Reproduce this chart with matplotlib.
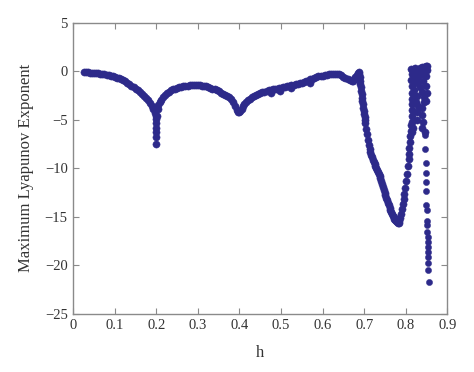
import matplotlib
matplotlib.use("Agg")
import matplotlib.pyplot as plt

# first arm, cusp near h = 0.2
h_a = [0.025, 0.03, 0.035, 0.04, 0.045, 0.05, 0.055, 0.06, 0.065, 0.07,
       0.075, 0.08, 0.085, 0.09, 0.095, 0.10, 0.105, 0.11, 0.115, 0.12,
       0.125, 0.13, 0.135, 0.14, 0.145, 0.15, 0.155, 0.16, 0.165, 0.17,
       0.175, 0.18, 0.185, 0.19, 0.193, 0.196, 0.198, 0.199, 0.2, 0.2,
       0.2, 0.2, 0.2]
lam_a = [-0.10, -0.10, -0.10, -0.11, -0.12, -0.14, -0.16, -0.19, -0.22, -0.26,
         -0.30, -0.34, -0.39, -0.44, -0.50, -0.56, -0.64, -0.72, -0.81, -0.92,
         -1.03, -1.16, -1.30, -1.45, -1.60, -1.76, -1.93, -2.11, -2.30, -2.50,
         -2.73, -2.98, -3.25, -3.60, -3.90, -4.25, -4.60, -4.95, -5.3, -5.8,
         -6.2, -6.8, -7.5]

# between the two cusps
h_b = [0.201, 0.203, 0.205, 0.208, 0.211, 0.215, 0.22, 0.225, 0.23, 0.235,
       0.24, 0.245, 0.25, 0.255, 0.26, 0.265, 0.27, 0.275, 0.28, 0.285,
       0.29, 0.295, 0.30, 0.305, 0.31, 0.315, 0.32, 0.325, 0.33, 0.335,
       0.34, 0.345, 0.35, 0.355, 0.36, 0.365, 0.37, 0.375, 0.38, 0.385,
       0.39, 0.393, 0.396, 0.399, 0.402]
lam_b = [-4.6, -3.9, -3.5, -3.15, -2.9, -2.65, -2.4, -2.22, -2.08, -1.95,
         -1.85, -1.76, -1.68, -1.62, -1.57, -1.52, -1.48, -1.45, -1.43, -1.41,
         -1.40, -1.40, -1.41, -1.43, -1.46, -1.50, -1.55, -1.61, -1.68, -1.76,
         -1.85, -1.95, -2.06, -2.18, -2.31, -2.46, -2.50, -2.65, -2.85, -3.15,
         -3.6, -4.0, -4.15, -4.15, -4.05]

# slow rise up to the peak near h = 0.687
h_c = [0.405, 0.408, 0.411, 0.415, 0.42, 0.425, 0.43, 0.435, 0.44, 0.445,
       0.45, 0.455, 0.46, 0.465, 0.47, 0.475, 0.48, 0.485, 0.49, 0.495,
       0.5, 0.505, 0.51, 0.515, 0.52, 0.525, 0.53, 0.535, 0.54, 0.545,
       0.55, 0.555, 0.56, 0.565, 0.57, 0.575, 0.58, 0.585, 0.59, 0.595,
       0.6, 0.605, 0.61, 0.615, 0.62, 0.625, 0.63, 0.635, 0.64, 0.645,
       0.65, 0.655, 0.66, 0.665, 0.67, 0.673, 0.676, 0.679, 0.682, 0.685,
       0.687, 0.477, 0.497, 0.523, 0.57]
lam_c = [-3.85, -3.6, -3.4, -3.18, -2.98, -2.8, -2.66, -2.54, -2.43, -2.33,
         -2.24, -2.16, -2.08, -2.01, -1.95, -1.9, -1.85, -1.8, -1.76, -1.71,
         -1.66, -1.61, -1.57, -1.52, -1.48, -1.43, -1.38, -1.32, -1.26, -1.2,
         -1.14, -1.08, -1.02, -0.95, -0.82, -0.74, -0.66, -0.58, -0.51, -0.45,
         -0.42, -0.37, -0.33, -0.3, -0.27, -0.25, -0.24, -0.25, -0.3, -0.4,
         -0.52, -0.66, -0.8, -0.92, -1.0, -0.95, -0.75, -0.55, -0.32, -0.12,
         -0.05, -2.2, -2.0, -1.75, -1.2]

# steep fall into the deep well and back up
h_d = [0.688, 0.689, 0.690, 0.691, 0.692, 0.693, 0.694, 0.695, 0.696, 0.697,
       0.698, 0.699, 0.700, 0.701, 0.702, 0.703, 0.705, 0.707,
       0.709, 0.711, 0.713, 0.715, 0.717, 0.719, 0.721, 0.723, 0.725, 0.727,
       0.729, 0.731, 0.733, 0.735, 0.737, 0.739, 0.741, 0.743, 0.745, 0.747,
       0.749, 0.751, 0.753, 0.755, 0.757, 0.759, 0.761, 0.763, 0.765, 0.767,
       0.769, 0.771, 0.773, 0.775, 0.777, 0.779, 0.781, 0.783,
       0.785, 0.787, 0.789, 0.791, 0.793, 0.795, 0.797, 0.799, 0.801, 0.803,
       0.805, 0.807, 0.808, 0.809, 0.810, 0.811, 0.812, 0.813]
lam_d = [-0.3, -0.6, -0.95, -1.3, -1.65, -2.0, -2.35, -2.7, -3.05, -3.4,
         -3.75, -4.1, -4.4, -4.7, -5.0, -5.3, -5.9, -6.5,
         -7.1, -7.6, -8.0, -8.3, -8.6, -8.85, -9.1, -9.35, -9.6, -9.8,
         -10.0, -10.2, -10.4, -10.6, -10.8, -11.05, -11.3, -11.6, -11.9, -12.2,
         -12.5, -12.8, -13.05, -13.3, -13.55, -13.8, -14.05, -14.3, -14.5, -14.7,
         -14.9, -15.05, -15.2, -15.35, -15.45, -15.55, -15.65, -15.6,
         -15.4, -15.1, -14.7, -14.2, -13.7, -13.2, -12.6, -12.0, -11.3, -10.6,
         -9.8, -9.0, -8.5, -7.9, -7.3, -6.7, -6.1, -5.5]

# scattered cluster near zero after the well
h_e = [0.813, 0.814, 0.813, 0.814, 0.815, 0.814, 0.815, 0.816, 0.815, 0.816,
       0.817, 0.816, 0.82, 0.825, 0.83, 0.835, 0.84, 0.845, 0.85, 0.852,
       0.822, 0.826, 0.83, 0.835, 0.838, 0.842, 0.845, 0.848, 0.843, 0.84,
       0.838, 0.842, 0.84, 0.846, 0.828, 0.825, 0.83, 0.828, 0.826, 0.849,
       0.85, 0.852, 0.818, 0.82, 0.823, 0.833, 0.837, 0.844, 0.851, 0.819]
lam_e = [0.3, -0.3, -0.9, -1.5, -2.2, -2.8, -3.4, -4.0, -4.6, -5.2,
         -5.8, -6.3, 0.3, 0.1, 0.2, 0.35, 0.45, 0.5, 0.55, 0.6,
         -0.8, -1.2, -0.6, -1.6, -2.1, -1.0, -2.6, -1.5, -3.2, -3.8,
         -4.5, -5.2, -5.8, -6.3, -2.5, -3.1, -3.6, -4.2, -5.0, -3.0,
         -0.5, -2.2, 0.0, -0.2, 0.4, -0.3, 0.1, -0.4, 0.2, -1.9]

# near-vertical run of isolated points
h_f = [0.847, 0.8475, 0.848, 0.8485, 0.849, 0.8495, 0.85, 0.8505, 0.851, 0.8515,
       0.852, 0.8525, 0.853, 0.8533, 0.8536, 0.854, 0.8544, 0.8548, 0.8552]
lam_f = [-6.6, -8.0, -9.5, -10.5, -11.4, -12.3, -13.8, -14.3, -15.4, -15.9,
         -16.6, -17.1, -17.6, -18.1, -18.6, -19.2, -19.8, -20.5, -21.7]

x_ticks = [0, 0.1, 0.2, 0.3, 0.4, 0.5, 0.6, 0.7, 0.8, 0.9]
y_ticks = [5, 0, -5, -10, -15, -20, -25]

plt.rcParams['font.family'] = ['Liberation Serif', 'DejaVu Serif']

fig = plt.figure(figsize=(4.74, 3.72), dpi=100)
ax = fig.add_axes([0.1546, 0.157, 0.789, 0.781])

col = '#2d2a8a'
for hs, ls in [(h_a, lam_a), (h_b, lam_b), (h_c, lam_c), (h_d, lam_d),
               (h_e, lam_e)]:
    ax.scatter(hs, ls, s=27, color=col, edgecolors=col, linewidths=0.3, zorder=3)
ax.scatter(h_f, lam_f, s=20, color=col, edgecolors=col, linewidths=0.3, zorder=3)

ax.set_xlim(0, 0.9)
ax.set_ylim(-25, 5)
ax.set_xticks(x_ticks)
ax.set_xticklabels([('%g' % t) for t in x_ticks])
ax.set_yticks(y_ticks)

for sp in ax.spines.values():
    sp.set_color('#8a8a8a')
    sp.set_linewidth(1.0)
ax.tick_params(direction='in', length=4, width=0.8, color='#8a8a8a',
               top=True, right=True, labelsize=10.5, labelcolor='#333333', pad=4)

ax.set_xlabel('h', fontsize=12, color='#333333', labelpad=9)
ax.set_ylabel('Maximum Lyapunov Exponent', fontsize=12, color='#333333', labelpad=8)

fig.savefig('out.png', dpi=100)
